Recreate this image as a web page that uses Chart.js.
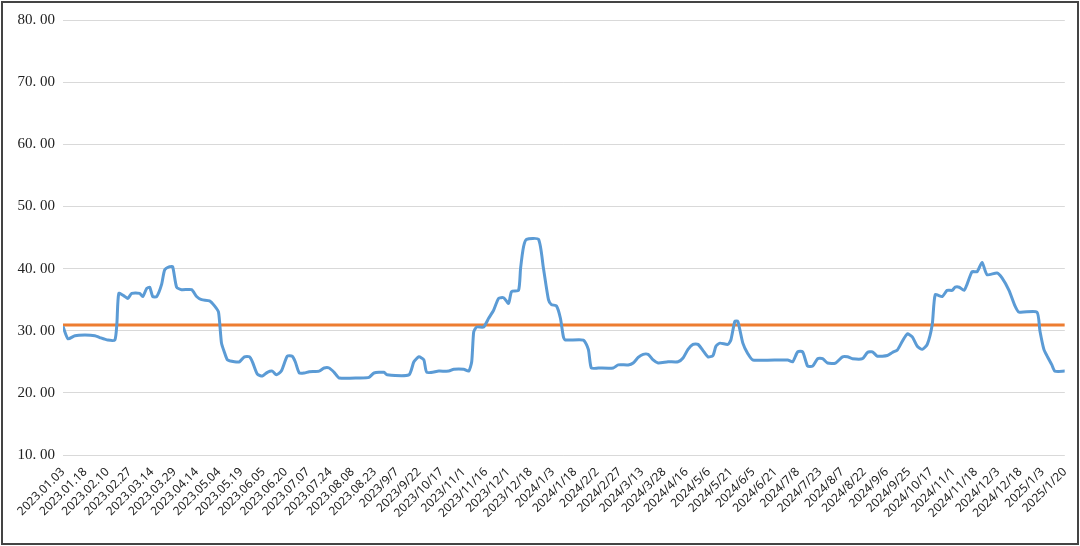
<!DOCTYPE html>
<html>
<head>
<meta charset="utf-8">
<script src="https://cdn.jsdelivr.net/npm/chart.js@4/dist/chart.umd.min.js"></script>
<style>
  html, body { margin: 0; padding: 0; background: #fff; }
  #wrap { position: absolute; left: 1px; top: 1px; width: 1074px; height: 540px; border: 2px solid #444; background: #fff; }
</style>
</head>
<body>
<div id="wrap"><canvas id="chart" width="1074" height="540"></canvas></div>
<script>
// tick labels along the bottom
const dateLabels = [
  '2023.01.03','2023.01.18','2023.02.10','2023.02.27','2023.03.14','2023.03.29','2023.04.14','2023.05.04',
  '2023.05.19','2023.06.05','2023.06.20','2023.07.07','2023.07.24','2023.08.08','2023.08.23','2023/9/7',
  '2023/9/22','2023/10/17','2023/11/1','2023/11/16','2023/12/1','2023/12/18','2024/1/3','2024/1/18',
  '2024/2/2','2024/2/27','2024/3/13','2024/3/28','2024/4/16','2024/5/6','2024/5/21','2024/6/5',
  '2024/6/21','2024/7/8','2024/7/23','2024/8/7','2024/8/22','2024/9/6','2024/9/25','2024/10/17',
  '2024/11/1','2024/11/18','2024/12/3','2024/12/18','2025/1/3','2025/1/20'
];
const lastDay = 502.5;

// trading-day index of each reading, and the value read at it
const days = [
  0, 2.5, 6, 11, 16, 18.5, 22.5, 26, 27, 28, 31, 32.5, 34.5, 38.5, 40, 42, 43.5, 45, 47, 49.5,
  51, 53.5, 55, 57, 59.5, 64.5, 67, 69.5, 73.5, 76, 78, 79.5, 81, 82.5, 86, 88.5, 91, 93.5, 95, 97.5,
  100, 102.5, 105, 107, 109.5, 112.5, 115, 116.5, 118.5, 121, 123.5, 128.5, 131, 133.5, 136, 138.5, 148.5, 153.5, 156, 161,
  162.5, 173.5, 176, 178.5, 181, 182.5, 188.5, 193.5, 196, 201, 203.5, 205, 206, 207.5, 211, 213.5, 216, 218.5, 221, 223.5,
  225, 228.5, 229.5, 231, 232.5, 238.5, 241, 243.5, 245, 247.5, 249.5, 251, 252, 261, 263.5, 265, 268.5, 276, 278.5, 283.5,
  286, 288.5, 291, 293.5, 296, 298.5, 303.5, 308.5, 311, 313.5, 316, 318.5, 321, 323.5, 326, 327.5, 329.5, 333.5, 335, 337,
  338.5, 341, 343.5, 346, 363.5, 366, 368.5, 371, 373.5, 376, 378.5, 381, 383.5, 387.5, 391, 393.5, 396, 401, 403.5, 406,
  408.5, 413.5, 416, 418.5, 421, 423.5, 426, 428.5, 431, 433.5, 436, 437.5, 441, 443.5, 446, 447.5, 449.5, 452, 453.5, 456,
  458.5, 461, 463.5, 468.5, 471, 474.5, 477.5, 479.5, 488.5, 490, 492, 493.5, 496, 497.5, 502.5
];
const values = [
  30.7, 28.7, 29.2, 29.3, 29.2, 28.9, 28.5, 28.5, 31, 36, 35.5, 35.2, 36, 36, 35.5, 36.8, 37, 35.5, 35.5, 37.5,
  39.8, 40.3, 40.3, 37, 36.6, 36.6, 35.5, 35, 34.8, 34, 33, 28, 26.5, 25.3, 25, 25, 25.8, 25.8, 25, 23,
  22.7, 23.3, 23.5, 22.9, 23.5, 25.9, 25.9, 25, 23.2, 23.2, 23.4, 23.5, 24, 24, 23.3, 22.4, 22.4, 22.5, 23.2, 23.3,
  22.9, 22.9, 25, 25.8, 25.3, 23.3, 23.5, 23.5, 23.8, 23.8, 23.5, 25, 29.8, 30.6, 30.6, 32, 33.3, 35.2, 35.3, 34.4,
  36.3, 36.5, 40, 43.5, 44.7, 44.7, 40, 35, 34.2, 34, 32, 29, 28.5, 28.5, 27, 24, 24, 24, 24.5, 24.5,
  24.8, 25.7, 26.2, 26.2, 25.3, 24.8, 25, 25, 25.6, 27, 27.8, 27.8, 26.8, 25.8, 26, 27.5, 28, 27.8, 28.5, 31.5,
  31.5, 28, 26.3, 25.3, 25.3, 25, 26.6, 26.6, 24.3, 24.3, 25.5, 25.5, 24.8, 24.8, 25.8, 25.8, 25.5, 25.5, 26.5, 26.6,
  25.9, 26, 26.5, 26.9, 28.3, 29.5, 29, 27.5, 27, 27.8, 31, 35.8, 35.5, 36.5, 36.5, 37, 37, 36.5, 37.5, 39.5,
  39.5, 41, 39, 39.3, 38.5, 36.5, 34, 33, 33, 30, 27, 26, 24.5, 23.5, 23.5
];
const averageLevel = 30.9;
const yTicks = [10, 20, 30, 40, 50, 60, 70, 80];

const ctx = document.getElementById('chart');
new Chart(ctx, {
  type: 'line',
  data: {
    datasets: [
      {
        data: days.map((d, i) => ({ x: d, y: values[i] })),
        borderColor: '#5b9bd5', borderWidth: 3, pointRadius: 0, tension: 0.2, fill: false
      },
      {
        data: [{ x: 0, y: averageLevel }, { x: lastDay, y: averageLevel }],
        borderColor: '#ed7d31', borderWidth: 3, pointRadius: 0, fill: false
      }
    ]
  },
  options: {
    responsive: false,
    animation: false,
    layout: { padding: { top: 8, right: 8, left: 0, bottom: 0 } },
    plugins: { legend: { display: false }, tooltip: { enabled: false } },
    scales: {
      x: {
        type: 'linear', min: 0, max: lastDay,
        afterBuildTicks: axis => {
          axis.ticks = dateLabels.map((_, i) => ({ value: i * lastDay / (dateLabels.length - 1) }));
        },
        afterFit: axis => { axis.height = 88; },
        grid: { display: false },
        border: { display: false },
        ticks: {
          autoSkip: false, minRotation: 45, maxRotation: 45, padding: 2,
          color: '#222', font: { family: 'Noto Sans', size: 12 },
          callback: (v, i) => dateLabels[i]
        }
      },
      y: {
        min: 10, max: 80,
        afterBuildTicks: axis => { axis.ticks = yTicks.map(v => ({ value: v })); },
        afterFit: axis => { axis.width = 60; },
        grid: { color: '#d9d9d9', lineWidth: 1, drawTicks: false },
        border: { display: false },
        ticks: {
          padding: 8, color: '#222', font: { family: 'Liberation Serif', size: 15 },
          callback: v => v.toFixed(2).replace('.', '. ')
        }
      }
    }
  }
});
</script>
</body>
</html>
